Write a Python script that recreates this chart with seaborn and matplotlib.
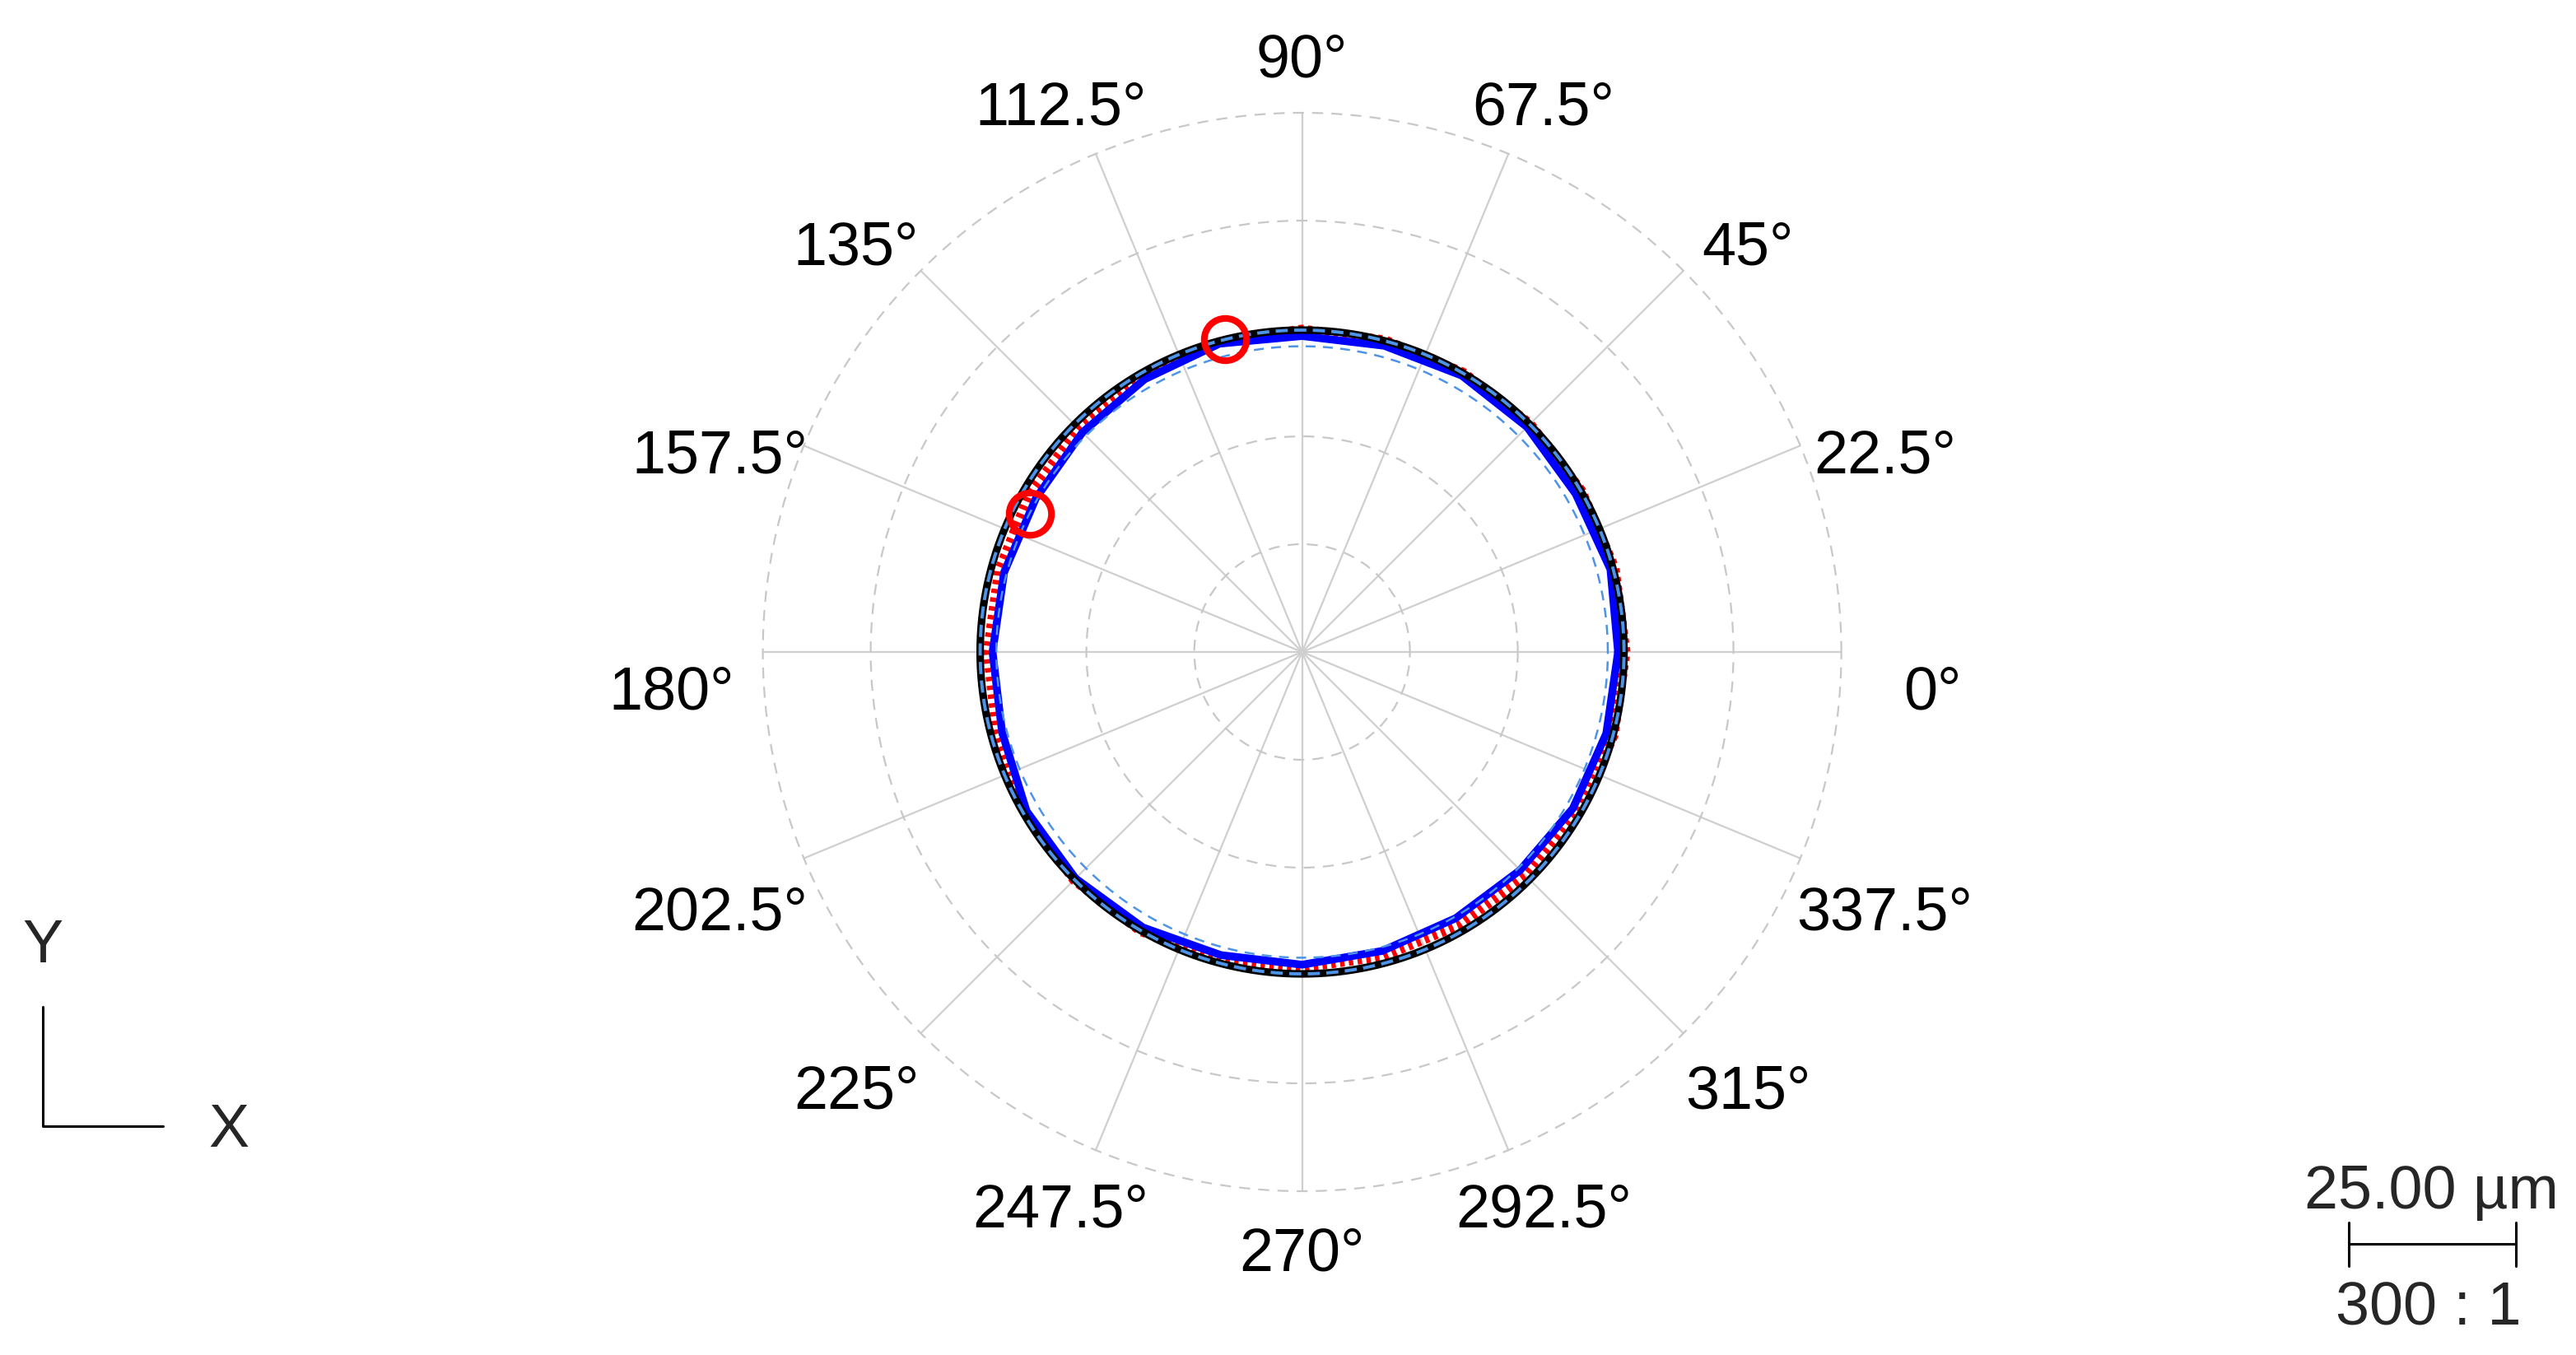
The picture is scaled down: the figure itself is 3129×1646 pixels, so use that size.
import numpy as np
import seaborn as sns
import matplotlib.pyplot as plt
from matplotlib.lines import Line2D

# Profile angles (deg) and radii
angles_deg = [0, 15, 30, 45, 60, 75, 90, 105, 120, 135, 150, 165, 180,
              195, 210, 225, 240, 255, 270, 285, 300, 315, 330, 345, 360]
blue_profile = [2.93, 2.96, 2.93, 2.95, 2.96, 2.94, 2.93, 2.96, 2.92, 2.88, 2.85, 2.86, 2.87,
                2.88, 2.95, 2.97, 2.95, 2.91, 2.90, 2.87, 2.85, 2.86, 2.90, 2.92, 2.93]
red_profile = [3.00, 3.00, 2.99, 2.99, 2.99, 2.99, 2.99, 2.97, 2.94, 2.93, 2.92, 2.91, 2.915,
               2.93, 2.97, 2.99, 2.99, 2.95, 2.925, 2.92, 2.92, 2.935, 2.96, 2.99, 3.00]
ref_radius = 2.985
inner_radius = 2.835
marker_angles = [103.9, 153.0]
marker_radii = [2.99, 2.83]

tick_angles = [0, 22.5, 45, 67.5, 90, 112.5, 135, 157.5, 180,
               202.5, 225, 247.5, 270, 292.5, 315, 337.5]
tick_labels = ["0°", "22.5°", "45°", "67.5°", "90°", "112.5°", "135°", "157.5°", "180°",
               "202.5°", "225°", "247.5°", "270°", "292.5°", "315°", "337.5°"]
ring_values = [1, 2, 3, 4, 5]

W, H = 3129, 1646
sns.set_style("white")
plt.rcParams["font.family"] = ["Liberation Sans", "DejaVu Sans"]

fig = plt.figure(figsize=(W / 100, H / 100), dpi=100)
cx, cy, R = 1581.6, 792, 655
ax = fig.add_axes([(cx - R) / W, (H - cy - R) / H, 2 * R / W, 2 * R / H], projection="polar")

theta = np.deg2rad(angles_deg)
circ = np.linspace(0, 2 * np.pi, 721)

sns.lineplot(x=theta, y=red_profile, ax=ax, sort=False, estimator=None, color="#ff0000",
             lw=8.6, linestyle=(0, (0.45, 0.45)), zorder=2)
sns.lineplot(x=theta, y=blue_profile, ax=ax, sort=False, estimator=None, color="#0000ff",
             lw=6.8, zorder=3)
sns.lineplot(x=circ, y=np.full(circ.size, inner_radius), ax=ax, sort=False, estimator=None,
             color="#4d94e8", lw=1.8, linestyle=(0, (4.8, 3.6)), zorder=4)
sns.lineplot(x=circ, y=np.full(circ.size, ref_radius), ax=ax, sort=False, estimator=None,
             color="black", lw=6.6, zorder=5)
sns.lineplot(x=circ, y=np.full(circ.size, ref_radius), ax=ax, sort=False, estimator=None,
             color="#4d94e8", lw=2.8, linestyle=(0, (3.8, 2.0)), zorder=6)
ax.plot(np.deg2rad(marker_angles), marker_radii, linestyle="none", marker="o", ms=37,
        mfc="none", mec="#ff0000", mew=5.8, zorder=7)

ax.set_rlim(0, 5)
ax.set_xticks(np.deg2rad(tick_angles))
ax.set_xticklabels([])
ax.set_yticks(ring_values)
ax.set_yticklabels([])
ax.set_xlabel("")
ax.set_ylabel("")
ax.tick_params(length=0)
ax.xaxis.grid(True, color="#cfcfcf", lw=1.6, linestyle="-")
ax.yaxis.grid(True, color="#c8c8c8", lw=1.6, linestyle=(0, (6, 4.5)))
for gl in ax.yaxis.get_gridlines():
    gl.set_clip_on(False)
ax.spines["polar"].set_visible(False)
ax.set_facecolor("white")

# angle labels
for ang, lab in zip(tick_angles, tick_labels):
    t = np.deg2rad(ang)
    dx = 766 * np.cos(t)
    dy = 725 * np.sin(t) - 43 * abs(np.cos(t)) ** 3 - 26.5
    ax.annotate(lab, xy=(0, 0), xycoords="data", xytext=(dx * 0.72, dy * 0.72),
                textcoords="offset points", ha="center", va="baseline",
                fontsize=53, color="black", annotation_clip=False)

# axis direction indicator
def fx(px):
    return px / W


def fy(py):
    return 1 - py / H


fig.add_artist(Line2D([fx(52), fx(52), fx(198)], [fy(1223), fy(1368), fy(1368)],
                      color="black", lw=2.2))
fig.text(fx(52), fy(1169), "Y", ha="center", va="baseline", fontsize=53)
fig.text(fx(278), fy(1393), "X", ha="center", va="baseline", fontsize=53)

# scale bar
fig.add_artist(Line2D([fx(2853), fx(3056)], [fy(1511), fy(1511)], color="black", lw=2.2))
fig.add_artist(Line2D([fx(2853), fx(2853)], [fy(1485), fy(1538)], color="black", lw=2.2))
fig.add_artist(Line2D([fx(3056), fx(3056)], [fy(1485), fy(1538)], color="black", lw=2.2))
fig.text(fx(2953), fy(1468), "25.00 µm", ha="center", va="baseline", fontsize=53)
fig.text(fx(2950), fy(1610), "300 : 1", ha="center", va="baseline", fontsize=53)

fig.savefig("out.png", dpi=100, facecolor="white")
